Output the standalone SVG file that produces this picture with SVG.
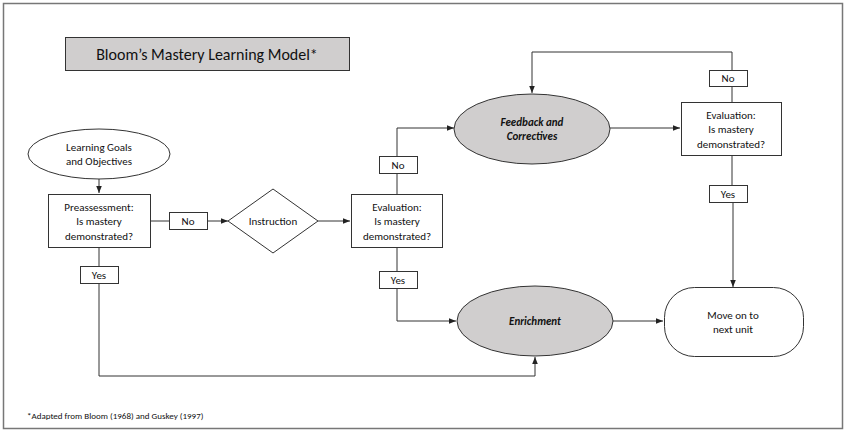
<svg xmlns="http://www.w3.org/2000/svg" width="850" height="433" viewBox="0 0 850 433">
<style>
text{font-family:Calibri,"Liberation Sans",Arial,sans-serif;font-size:11px;fill:#111;text-anchor:middle}
.b{fill:#fff;stroke:#333;stroke-width:1}
.g{fill:#d0cece;stroke:#333;stroke-width:1}
.c{fill:none;stroke:#333;stroke-width:1;marker-end:url(#a)}
.l{fill:none;stroke:#333;stroke-width:1}
.bi{font-weight:bold;font-style:italic}
</style>
<defs><marker id="a" viewBox="0 0 10 10" refX="10" refY="5" markerWidth="7" markerHeight="7" orient="auto"><path d="M0,1L10,5L0,9z" fill="#222"/></marker></defs>
<rect x="0" y="0" width="850" height="433" fill="#fff"/>
<rect x="3.5" y="3.5" width="839" height="425" fill="#fff" stroke="#777" stroke-width="1.5"/>
<g id="title"><rect x="65.5" y="37.5" width="284" height="33" class="g" stroke-width="1.5"/><text x="207" y="60" style="font-size:16px">Bloom’s Mastery Learning Model*</text></g>
<g id="connectors">
<path class="c" d="M99,179V193"/>
<path class="l" d="M151,221H169"/><path class="c" d="M208,221H228"/>
<path class="c" d="M318,221H350"/>
<path class="l" d="M397,194V173"/><path class="c" d="M397,156V128H454"/>
<path class="l" d="M397,248V271"/><path class="c" d="M397,289V321H456"/>
<path class="c" d="M610,128H680"/>
<path class="l" d="M732,102V87"/><path class="c" d="M732,70V52H532V93"/>
<path class="l" d="M732,156V185"/><path class="c" d="M733,203V287"/>
<path class="c" d="M613,321H663"/>
<path class="l" d="M99,248V266"/><path class="c" d="M99,284V376H535V357"/>
</g>
<g id="goals"><ellipse cx="99" cy="154" rx="71" ry="25" class="b"/><text x="99" y="151">Learning Goals</text><text x="99" y="165">and Objectives</text></g>
<g id="pre"><rect x="48.5" y="194.5" width="102" height="53" class="b"/><text x="99" y="211">Preassessment:</text><text x="99" y="225">Is mastery</text><text x="99" y="240">demonstrated?</text></g>
<g id="no1"><rect x="169.5" y="212.5" width="38" height="17" class="b"/><text x="188" y="225">No</text></g>
<g id="instr"><path d="M228,221L273,189L318,221L273,253Z" class="b"/><text x="273" y="225">Instruction</text></g>
<g id="eval1"><rect x="351.5" y="194.5" width="91" height="53" class="b"/><text x="397" y="211">Evaluation:</text><text x="397" y="225">Is mastery</text><text x="397" y="240">demonstrated?</text></g>
<g id="no2"><rect x="379.5" y="156.5" width="38" height="17" class="b"/><text x="398" y="169">No</text></g>
<g id="yes2"><rect x="379.5" y="271.5" width="38" height="17" class="b"/><text x="398" y="284">Yes</text></g>
<g id="yes1"><rect x="80.5" y="266.5" width="38" height="17" class="b"/><text x="99" y="279">Yes</text></g>
<g id="feedback"><ellipse cx="532" cy="129" rx="78" ry="35" class="g"/><text class="bi" x="532" y="126">Feedback and</text><text class="bi" x="532" y="140">Correctives</text></g>
<g id="enrich"><ellipse cx="535" cy="321" rx="78" ry="35" class="g"/><text class="bi" x="535" y="325">Enrichment</text></g>
<g id="eval2"><rect x="681.5" y="102.5" width="100" height="53" class="b"/><text x="731" y="119">Evaluation:</text><text x="731" y="133">Is mastery</text><text x="731" y="148">demonstrated?</text></g>
<g id="no3"><rect x="709.5" y="70.5" width="38" height="16" class="b"/><text x="728" y="82">No</text></g>
<g id="yes3"><rect x="709.5" y="185.5" width="38" height="17" class="b"/><text x="728" y="198">Yes</text></g>
<g id="move"><rect x="664.5" y="287.5" width="139" height="69" rx="30" class="b"/><text x="733" y="319">Move on to</text><text x="733" y="333">next unit</text></g>
<text x="27" y="419" style="font-size:9px;text-anchor:start">*Adapted from Bloom (1968) and Guskey (1997)</text>
</svg>
